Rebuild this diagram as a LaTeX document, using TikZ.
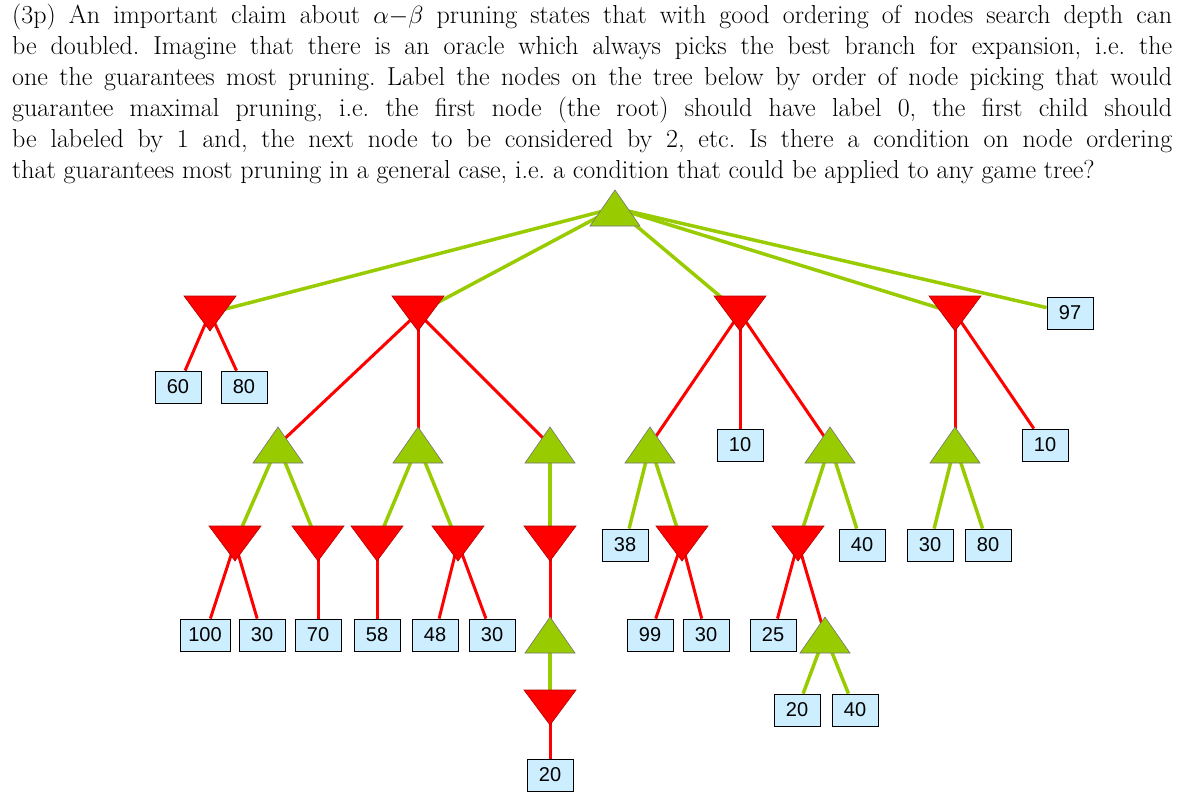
\documentclass[tikz,border=0pt]{standalone}
\usepackage{fontspec}
\newfontfamily\arialf{Liberation Sans}
\usetikzlibrary{backgrounds}
\definecolor{maxg}{HTML}{99CC00}
\definecolor{leafb}{HTML}{CCEEFF}
\begin{document}
\begin{tikzpicture}[x=1pt,y=-1pt,
  leaf/.style={draw=black,fill=leafb,line width=0.8pt,minimum width=46pt,minimum height=32pt,inner sep=2pt,font=\arialf\fontsize{20}{22}\selectfont},
  ge/.style={maxg,line width=3.5pt},
  re/.style={red,line width=3pt},
  maxT/.style={fill=maxg,draw=black!55,line width=0.6pt},
  minT/.style={fill=red,draw=red!70!black,line width=0.6pt}]
\useasboundingbox (0,0) rectangle (1194,801);
\node[anchor=north west,text width=1160pt,align=justify,inner sep=0pt,font=\fontsize{26}{31}\selectfont\frenchspacing] (txt) at (12,4)
{(3p) An important claim about $\alpha{-}\beta$ pruning states that with good ordering of nodes search depth can\linebreak be doubled. Imagine that there is an oracle which always picks the best branch for expansion, i.e.\ the\linebreak one the guarantees most pruning. Label the nodes on the tree below by order of node picking that would\linebreak guarantee maximal pruning, i.e.\ the first node (the root) should have label 0, the first child should\linebreak be labeled by 1 and, the next node to be considered by 2, etc. Is there a condition on node ordering\linebreak that guarantees most pruning in a general case, i.e.\ a condition that could be applied to any game tree?};
% max (up) triangles
\foreach \n/\x/\y in {r/615/208, u1/278/445, u2/418/445, u3/550/445, u4/650/445, u5/830/445, u6/955/445, u7/550/635, u8/825/635}{
  \coordinate (\n) at (\x,\y);
  \draw[maxT] (\x-25,\y+18) -- (\x+25,\y+18) -- (\x,\y-18) -- cycle;}
% min (down) triangles
\foreach \n/\x/\y in {d1/210/313, d2/418/313, d3/740/313, d4/955/313, e1/235/543, e2/318/543, e3/377/543, e4/458/543, e5/550/543, e6/682/543, e7/798/543, f1/550/707}{
  \coordinate (\n) at (\x,\y);
  \draw[minT] (\x-26,\y-17) -- (\x+26,\y-17) -- (\x,\y+18) -- cycle;}
% leaves
\node[leaf] (a97) at (1070,313) {97};
\node[leaf] (a60) at (178,387) {60};
\node[leaf] (a80) at (244,387) {80};
\node[leaf] (b10) at (740,445) {10};
\node[leaf] (c10) at (1045,445) {10};
\node[leaf] (a38) at (625,545) {38};
\node[leaf] (a40) at (862,545) {40};
\node[leaf] (b30) at (930,545) {30};
\node[leaf] (b80) at (988,545) {80};
\node[leaf,minimum width=50pt] (a100) at (205,635) {100};
\node[leaf] (c30) at (262,635) {30};
\node[leaf] (a70) at (318,635) {70};
\node[leaf] (a58) at (377,635) {58};
\node[leaf] (a48) at (435,635) {48};
\node[leaf] (d30) at (492,635) {30};
\node[leaf] (a99) at (650,635) {99};
\node[leaf] (e30) at (706,635) {30};
\node[leaf] (a25) at (773,635) {25};
\node[leaf] (a20) at (797,710) {20};
\node[leaf] (b40) at (855,710) {40};
\node[leaf] (b20) at (550,775) {20};
\begin{scope}[on background layer]
\foreach \c in {d1,d2,d3,d4,a97} \draw[ge] (r) -- (\c);
\foreach \c in {a60,a80} \draw[re] (d1) -- (\c);
\foreach \c in {u1,u2,u3} \draw[re] (d2) -- (\c);
\foreach \c in {u4,b10,u5} \draw[re] (d3) -- (\c);
\foreach \c in {u6,c10} \draw[re] (d4) -- (\c);
\foreach \p/\c in {u1/e1,u1/e2,u2/e3,u2/e4,u3/e5,u4/a38,u4/e6,u5/e7,u5/a40,u6/b30,u6/b80,u7/f1,u8/a20,u8/b40} \draw[ge] (\p) -- (\c);
\foreach \p/\c in {e1/a100,e1/c30,e2/a70,e3/a58,e4/a48,e4/d30,e5/u7,e6/a99,e6/e30,e7/a25,e7/u8,f1/b20} \draw[re] (\p) -- (\c);
\end{scope}
\end{tikzpicture}
\end{document}
